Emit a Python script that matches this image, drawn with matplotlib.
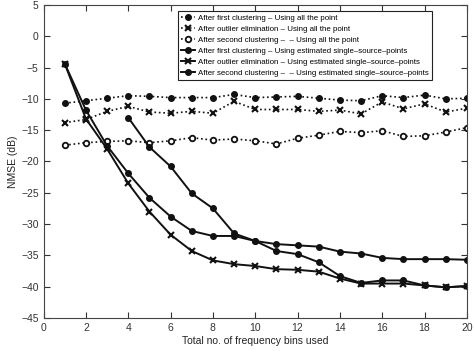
import numpy as np
import matplotlib.pyplot as plt

plt.rcParams['font.family'] = ['Liberation Sans', 'DejaVu Sans']

bins = np.arange(1, 21)

# all points (dotted)
first_all = [-10.7, -10.3, -9.9, -9.5, -9.6, -9.8, -9.8, -9.8, -9.3, -9.8,
             -9.7, -9.6, -9.9, -10.2, -10.3, -9.5, -9.8, -9.4, -10.0, -9.9]
outlier_all = [-13.8, -13.3, -12.0, -11.2, -12.1, -12.3, -12.0, -12.3, -10.4, -11.7,
               -11.7, -11.7, -12.0, -11.8, -12.4, -10.5, -11.6, -10.8, -12.1, -11.5]
second_all = [-17.4, -17.0, -16.8, -16.7, -17.0, -16.7, -16.2, -16.6, -16.4, -16.7,
              -17.2, -16.3, -15.8, -15.2, -15.4, -15.1, -16.0, -15.9, -15.3, -14.6]

# estimated single-source points (solid)
first_ssp = [-4.4, -11.8, -17.5, -21.9, -25.8, -28.8, -31.1, -31.9, -31.9, -32.7,
             -33.2, -33.4, -33.6, -34.4, -34.7, -35.4, -35.6, -35.6, -35.6, -35.7]
outlier_ssp = [-4.4, -13.2, -18.0, -23.5, -28.0, -31.7, -34.3, -35.8, -36.4, -36.7,
               -37.2, -37.3, -37.6, -38.7, -39.5, -39.5, -39.5, -39.8, -40.1, -39.9]
bins_second = np.arange(4, 21)
second_ssp = [-13.0, -17.7, -20.8, -25.1, -27.5, -31.5, -32.7, -34.3, -34.8,
              -36.1, -38.3, -39.4, -39.0, -39.0, -39.8, -40.1, -39.9]

labels = [
    "After first clustering \u2013 Using all the point",
    "After outlier elimination \u2013 Using all the point",
    "After second clustering \u2013  \u2013 Using all the point",
    "After first clustering \u2013 Using estimated single\u2013source\u2013points",
    "After outlier elimination \u2013 Using estimated single\u2013source\u2013points",
    "After second clustering \u2013  \u2013 Using estimated single\u2013source\u2013points",
]

k = '#111111'
fig = plt.figure(figsize=(4.74, 3.51), dpi=100)
ax = fig.add_axes([0.092, 0.094, 0.893, 0.892])

ax.plot(bins, first_all, ':', color=k, lw=1.2, marker='o', ms=4, label=labels[0])
ax.plot(bins, outlier_all, ':', color=k, lw=1.2, marker='x', ms=4, mew=1.5, label=labels[1])
ax.plot(bins, second_all, ':', color=k, lw=1.2, marker='o', ms=4, mfc='white', mew=1.3, label=labels[2])
ax.plot(bins, first_ssp, '-', color=k, lw=1.4, marker='o', ms=4, label=labels[3])
ax.plot(bins, outlier_ssp, '-', color=k, lw=1.4, marker='x', ms=4, mew=1.5, label=labels[4])
ax.plot(bins_second, second_ssp, '-', color=k, lw=1.4, marker='o', ms=4, label=labels[5])

ax.set_xlim(0, 20)
ax.set_ylim(-45, 5)
ax.set_xticks(np.arange(0, 21, 2))
ax.set_yticks(np.arange(-45, 6, 5))
ax.set_yticklabels([f"\u2212{abs(v)}" if v < 0 else str(v) for v in range(-45, 6, 5)])
ax.tick_params(direction='in', top=True, right=True, labelsize=7.5, colors='#333333',
               length=4)
for s in ax.spines.values():
    s.set_color('#444444')
ax.set_xlabel("Total no. of frequency bins used", fontsize=7.5, color='#222222', labelpad=2)
ax.set_ylabel("NMSE (dB)", fontsize=7.5, color='#222222', labelpad=2)

leg = ax.legend(loc='upper right', bbox_to_anchor=(0.926, 0.992), fontsize=5.7,
                handlelength=1.8, handletextpad=0.4, labelspacing=0.45,
                borderpad=0.35, frameon=True, fancybox=False, framealpha=1)
leg.get_frame().set_edgecolor('#222222')
leg.get_frame().set_linewidth(0.8)

fig.savefig("out.png", dpi=100)
